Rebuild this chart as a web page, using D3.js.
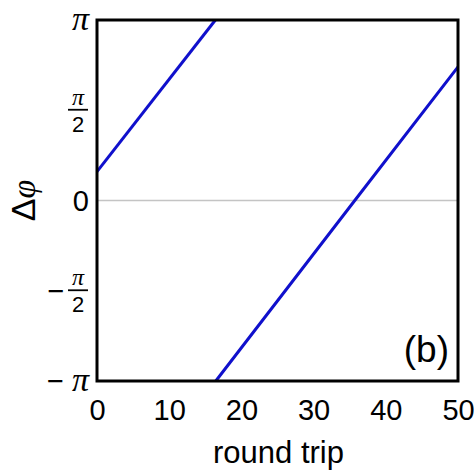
<!DOCTYPE html>
<html>
<head>
<meta charset="utf-8">
<script src="https://cdn.jsdelivr.net/npm/d3@7"></script>
<style>
  html, body { margin: 0; padding: 0; background: #fff; }
  svg { display: block; }
  text { font-family: "Liberation Sans", Arial, sans-serif; fill: #000; }
  .pi { font-family: "Liberation Serif", "DejaVu Serif", serif; font-style: italic; }
</style>
</head>
<body>
<script>
// round trip numbers and phase (in units of pi)
const branch1Trip = [0, 16.4];
const branch1Phase = [0.16, 1.0];
const branch2Trip = [16.45, 35.7, 50];
const branch2Phase = [-1.0, 0.0, 0.74];

const xTicks = [0, 10, 20, 30, 40, 50];
const yTicks = [1, 0.5, 0, -0.5, -1];        // units of pi
const yTickLabels = ["π", "π/2", "0", "−π/2", "−π"];

function main() {
    const width = 474, height = 474;
    const left = 97, right = 458, top = 20, bottom = 381;

    const svg = d3.select("body").append("svg")
        .attr("width", width)
        .attr("height", height);

    const x = d3.scaleLinear().domain([0, 50]).range([left, right]);
    const y = d3.scaleLinear().domain([-Math.PI, Math.PI]).range([bottom, top]);

    // zero line
    svg.append("line")
        .attr("x1", x(0)).attr("x2", x(50))
        .attr("y1", y(0)).attr("y2", y(0))
        .attr("stroke", "#c4c4c4")
        .attr("stroke-width", 1.3);

    const line = d3.line()
        .x(d => x(d[0]))
        .y(d => y(d[1] * Math.PI));

    const branches = [
        d3.zip(branch1Trip, branch1Phase),
        d3.zip(branch2Trip, branch2Phase)
    ];

    svg.append("g")
        .selectAll("path")
        .data(branches)
        .join("path")
        .attr("d", line)
        .attr("fill", "none")
        .attr("stroke", "#1010cc")
        .attr("stroke-width", 3);

    // frame
    svg.append("rect")
        .attr("x", left).attr("y", top)
        .attr("width", right - left).attr("height", bottom - top)
        .attr("fill", "none")
        .attr("stroke", "#000")
        .attr("stroke-width", 3);

    // x axis labels
    const xAxis = svg.append("g")
        .attr("transform", `translate(0,${bottom})`)
        .call(d3.axisBottom(x).tickValues(xTicks).tickSize(0).tickPadding(0));
    xAxis.select(".domain").remove();
    xAxis.selectAll("text")
        .attr("y", 39)
        .attr("dy", null)
        .style("font-size", "29px")
        .style("font-family", "Liberation Sans, Arial, sans-serif");

    // y axis labels, pi fractions drawn by hand
    const yAxis = svg.append("g")
        .attr("transform", `translate(${left},0)`)
        .call(d3.axisLeft(y).tickValues(yTicks.map(v => v * Math.PI))
            .tickSize(0).tickFormat(""));
    yAxis.select(".domain").remove();
    yAxis.selectAll(".tick").each(function(d, i) {
        const g = d3.select(this);
        const lab = yTickLabels[i];
        if (lab === "0") {
            g.append("text").attr("x", -8).attr("y", 10)
                .attr("text-anchor", "end")
                .style("font-size", "29px").text("0");
        } else if (lab === "π" || lab === "−π") {
            const t = g.append("text").attr("x", -8).attr("y", 9)
                .attr("text-anchor", "end");
            if (lab === "−π") {
                t.append("tspan").style("font-size", "29px").text("− ");
            }
            t.append("tspan").attr("class", "pi")
                .style("font-size", "34px").text("π");
        } else {
            const cx = -19;
            if (lab[0] === "−") {
                g.append("text").attr("x", -41).attr("y", 10)
                    .attr("text-anchor", "middle")
                    .style("font-size", "29px").text("−");
            }
            g.append("text").attr("class", "pi")
                .attr("x", cx).attr("y", -6)
                .attr("text-anchor", "middle")
                .style("font-size", "24px").text("π");
            g.append("text")
                .attr("x", cx).attr("y", 21)
                .attr("text-anchor", "middle")
                .style("font-size", "22px").text("2");
            g.append("line")
                .attr("x1", cx - 10).attr("x2", cx + 10)
                .attr("y1", -1).attr("y2", -1)
                .attr("stroke", "#000").attr("stroke-width", 1.8);
        }
    });

    // axis titles
    svg.append("text")
        .attr("x", (left + right) / 2 + 1)
        .attr("y", 463)
        .attr("text-anchor", "middle")
        .style("font-size", "31px")
        .text("round trip");

    const yl = svg.append("text")
        .attr("transform", `translate(35,${(top + bottom) / 2}) rotate(-90)`)
        .attr("text-anchor", "middle")
        .style("font-size", "34px");
    yl.append("tspan").text("Δ");
    yl.append("tspan").attr("class", "pi").text("φ");

    // panel tag
    svg.append("text")
        .attr("x", 449)
        .attr("y", 362)
        .attr("text-anchor", "end")
        .style("font-size", "37px")
        .text("(b)");
}

main();
</script>
</body>
</html>
